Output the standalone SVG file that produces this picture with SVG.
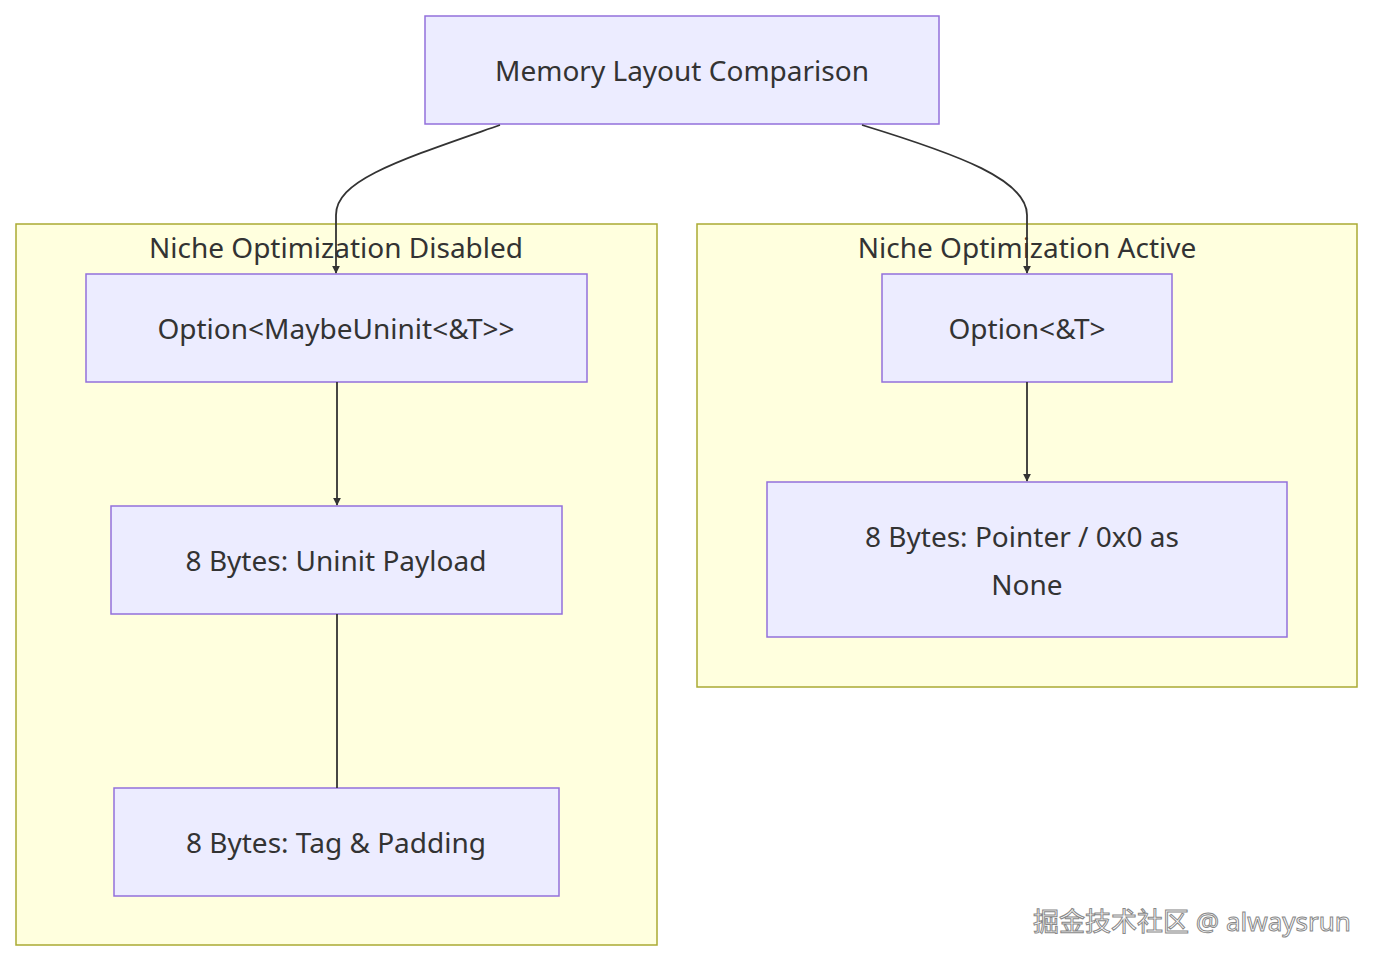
<svg xmlns="http://www.w3.org/2000/svg" width="1373" height="962" viewBox="0 0 1373 962">
<style>
.cl{fill:#ffffde;stroke:#aaaa33;stroke-width:1.5}
.nd{fill:#ececff;stroke:#9370db;stroke-width:1.5}
text{font-family:"Noto Sans","DejaVu Sans",sans-serif;font-size:28px;fill:#333;text-anchor:middle;dominant-baseline:central}
.e{fill:none;stroke:#333;stroke-width:1.8}
</style>
<defs><marker id="a" viewBox="0 0 10 10" refX="9" refY="5" markerWidth="8" markerHeight="8" markerUnits="userSpaceOnUse" orient="auto"><path d="M0,0L10,5L0,10z" fill="#333"/></marker></defs>
<rect width="1373" height="962" fill="#fff"/>
<g id="clusterL"><rect class="cl" x="16" y="224" width="641" height="721"/><text x="336" y="247">Niche Optimization Disabled</text></g>
<g id="clusterR"><rect class="cl" x="697" y="224" width="660" height="463"/><text x="1027" y="247">Niche Optimization Active</text></g>
<g id="top"><rect class="nd" x="425" y="16" width="514" height="108"/><text x="682" y="70">Memory Layout Comparison</text></g>
<g id="n1"><rect class="nd" x="86" y="274" width="501" height="108"/><text x="336" y="328">Option&lt;MaybeUninit&lt;&amp;T&gt;&gt;</text></g>
<g id="n2"><rect class="nd" x="111" y="506" width="451" height="108"/><text x="336" y="560">8 Bytes: Uninit Payload</text></g>
<g id="n3"><rect class="nd" x="114" y="788" width="445" height="108"/><text x="336" y="842">8 Bytes: Tag &amp; Padding</text></g>
<g id="n4"><rect class="nd" x="882" y="274" width="290" height="108"/><text x="1027" y="328">Option&lt;&amp;T&gt;</text></g>
<g id="n5"><rect class="nd" x="767" y="482" width="520" height="155"/><text x="1022" y="536">8 Bytes: Pointer / 0x0 as</text><text x="1027" y="584">None</text></g>
<g id="edges">
<path class="e" d="M500,125C400,160 336,180 336,215L336,273" marker-end="url(#a)"/>
<path class="e" d="M862,125C960,155 1027,180 1027,215L1027,273" marker-end="url(#a)"/>
<path class="e" d="M337,382L337,505" marker-end="url(#a)"/>
<path class="e" d="M337,614L337,788"/>
<path class="e" d="M1027,382L1027,481" marker-end="url(#a)"/>
</g>
<text x="1192" y="921" style="font-family:'Noto Sans','Noto Sans CJK SC',sans-serif;font-size:26px;fill:#fff;stroke:#888;stroke-width:1">掘金技术社区 @ alwaysrun</text>
</svg>
